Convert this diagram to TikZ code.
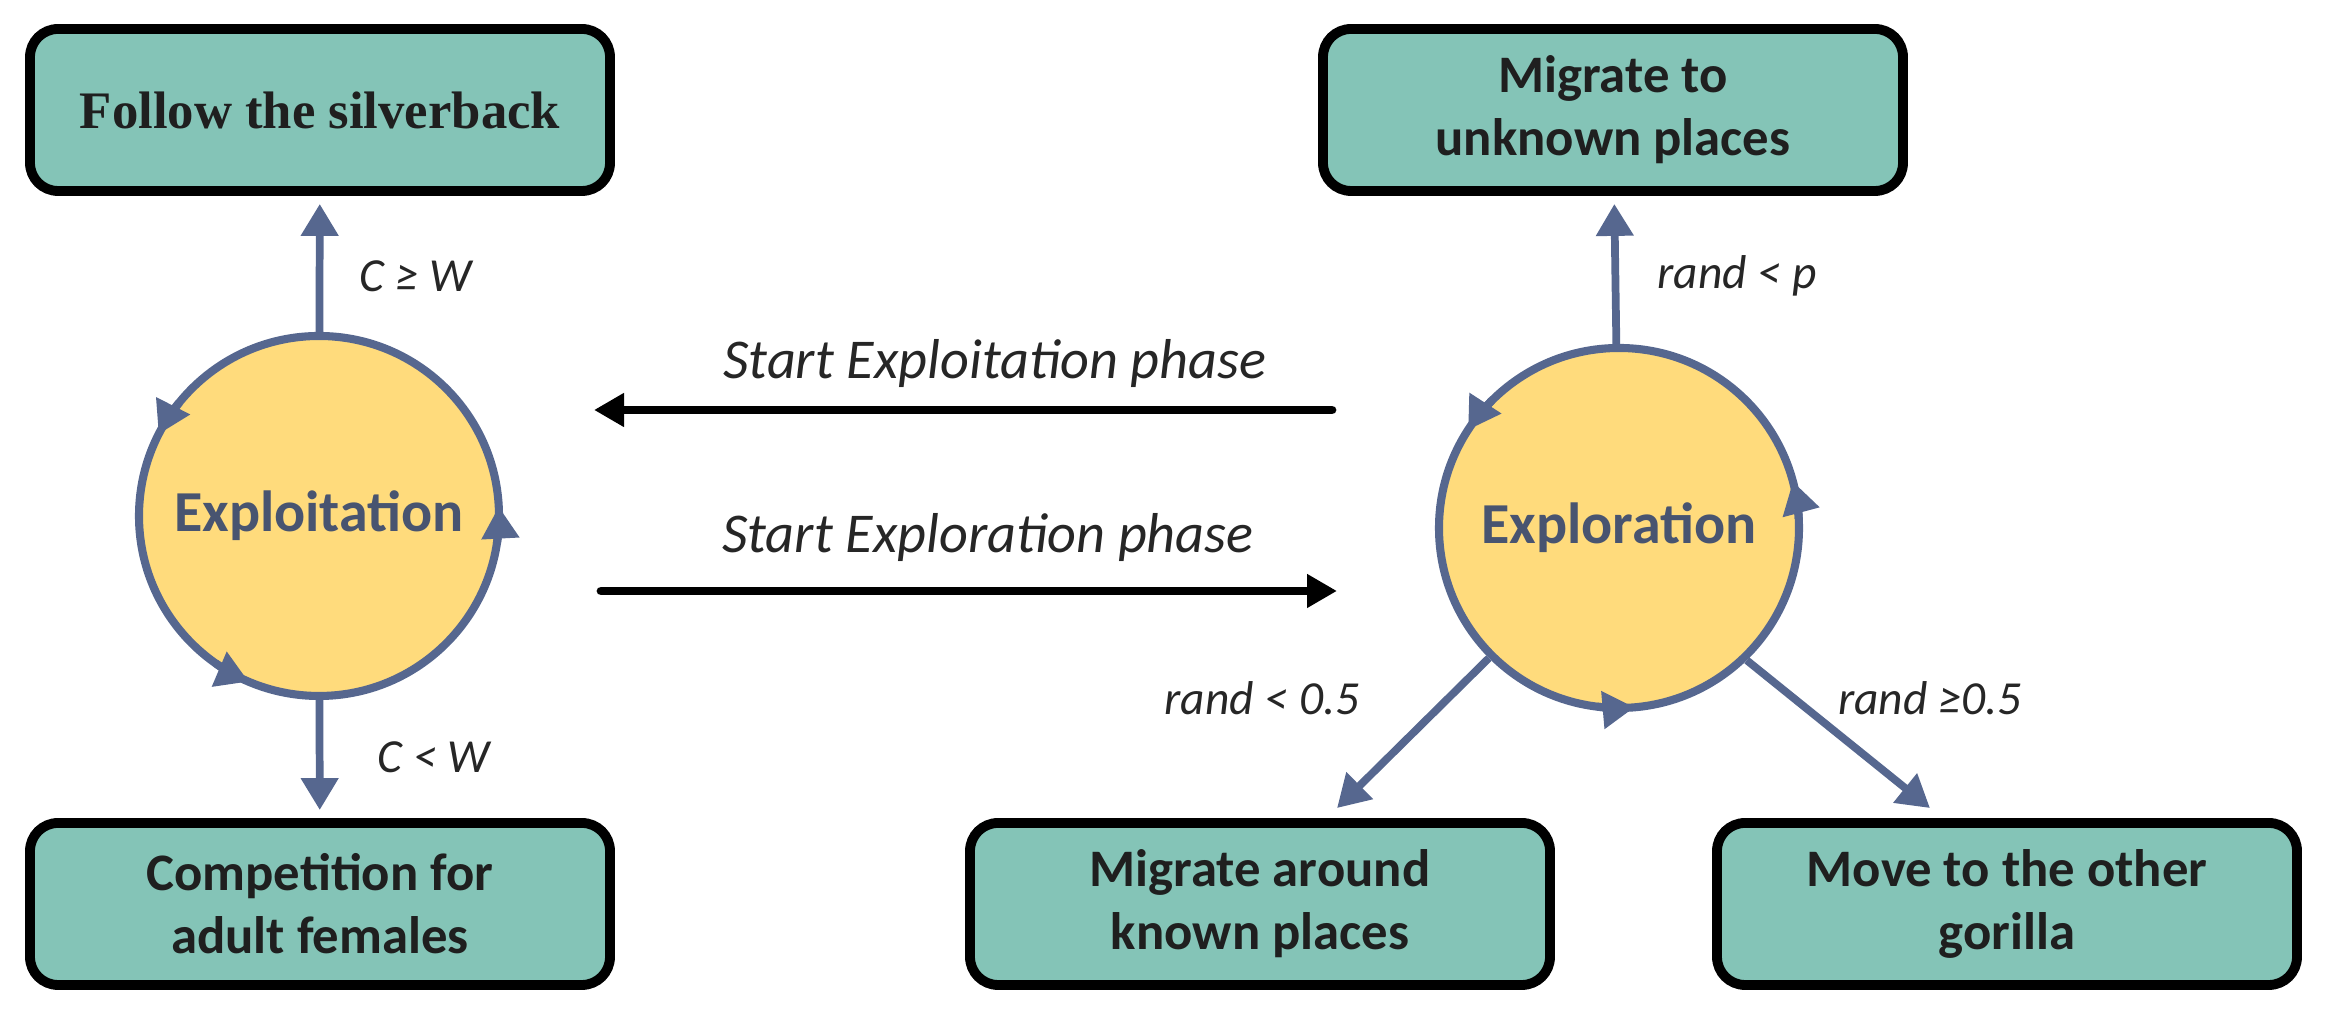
\documentclass[tikz,border=0pt]{standalone}
\usepackage{fontspec}
\setmainfont{Carlito}
\newfontfamily\timesfont{Liberation Serif}
\usetikzlibrary{arrows.meta}

\definecolor{boxteal}{RGB}{132,196,183}
\definecolor{sunyellow}{RGB}{255,219,124}
\definecolor{slateline}{RGB}{86,103,143}
\definecolor{slatetext}{RGB}{72,84,112}

\begin{document}
\begin{tikzpicture}
		\useasboundingbox (0,0) rectangle (23.28,10.17);

		\begin{scope}[every node/.style={draw=black,line width=2.8pt,rounded corners=0.28cm,
		              fill=boxteal,minimum width=5.8cm,minimum height=1.62cm,align=center,
		              text=black!88,font=\bfseries\fontsize{15}{18}\selectfont}]
		    \node (follow)  at (3.20,9.07)  {\timesfont\fontsize{15}{18}\selectfont Follow the silverback};
		    \node (compete) at (3.20,1.13)  {Competition for\\adult females};
		    \node (unknown) at (16.13,9.07) {Migrate to\\unknown places};
		    \node (known)   at (12.60,1.13) {Migrate around\\known places};
		    \node (other)   at (20.07,1.13) {Move to the other\\gorilla};
		\end{scope}

		\begin{scope}[every node/.style={circle,draw=slateline,line width=2.3pt,fill=sunyellow,
		              minimum size=3.6cm,text=slatetext,font=\bfseries\fontsize{16.5}{19}\selectfont}]
		    \node (exploit) at (3.19,5.01)  {Exploitation};
		    \node (explore) at (16.19,4.89) {Exploration};
		\end{scope}

		% turning arrows on the two circles
		\begin{scope}[slateline,line width=2.3pt,>={Triangle[width=0.36cm,length=0.32cm]}]
		    \foreach \a in {153,3,247}
		        \draw [->] ([shift={(\a-12:1.8)}]exploit.center) arc (\a-12:\a:1.8);
		    \foreach \a in {147,15,275}
		        \draw [->] ([shift={(\a-12:1.8)}]explore.center) arc (\a-12:\a:1.8);
		\end{scope}

		\begin{scope}[>={Triangle[width=0.36cm,length=0.32cm]},
		              every edge/.style={draw=slateline,line width=2.2pt}]
		    \path [->,shorten >=0.08cm] (exploit) edge (follow);
		    \path [->,shorten >=0.08cm] (exploit) edge (compete);
		    \path [->,shorten >=0.08cm] (explore) edge (unknown);
		    \path [->] (explore.-135) edge ([xshift=0.77cm,yshift=0.1cm]known.north);
		    \path [->] (explore.-46)  edge ([xshift=-0.77cm,yshift=0.1cm]other.north);
		\end{scope}

		\coordinate (toexploit-a) at (13.32,6.07);
		\coordinate (toexploit-b) at (5.94,6.07);
		\coordinate (toexplore-a) at (6.01,4.26);
		\coordinate (toexplore-b) at (13.37,4.26);

		\begin{scope}[>={Triangle[width=0.32cm,length=0.3cm]},
		              every edge/.style={draw=black,line width=2.5pt,line cap=round}]
		    \path [->] (toexploit-a) edge (toexploit-b);
		    \path [->] (toexplore-a) edge (toexplore-b);
		\end{scope}

		\begin{scope}[every node/.style={text=black!85,font=\itshape\fontsize{16}{19}\selectfont}]
		    \node (exploitlbl) at (9.95,6.53) {Start Exploitation phase};
		    \node (explorelbl) at (9.88,4.79) {Start Exploration phase};
		\end{scope}

		\begin{scope}[every node/.style={text=black!85,font=\itshape\fontsize{13.5}{16}\selectfont}]
		    \node (geqlbl)   at (4.16,7.41)  {C ≥ W};
		    \node (lesslbl)  at (4.34,2.60)  {C < W};
		    \node (randp)    at (17.37,7.41) {rand < p};
		    \node (randlow)  at (12.62,3.19) {rand < 0.5};
		    \node (randhigh) at (19.30,3.19) {rand ≥0.5};
		\end{scope}
		\end{tikzpicture}
\end{document}
